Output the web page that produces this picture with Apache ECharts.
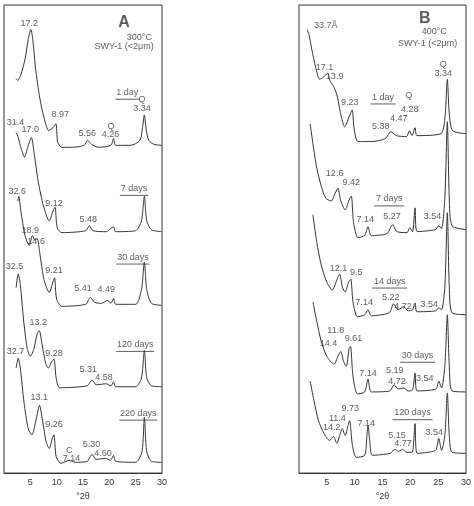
<!DOCTYPE html>
<html><head><meta charset="utf-8">
<script src="https://cdn.jsdelivr.net/npm/echarts@6/dist/echarts.min.js"></script>
<style>html,body{margin:0;padding:0;background:#fff}#c{width:474px;height:506px}</style>
</head><body><div id="c"></div>
<script>
// ---- Panel A (300°C) traces: [2θ, relative intensity] ; offsets = stacking baseline
const traceNamesA = ['1 day','7 days','30 days','120 days','220 days'];
const offsetsA = [332, 245, 170, 87, 10];
const a1 = [[2.3,70],[2.6,68],[3.2,74],[4.0,90],[4.6,110],[5.1,120],[5.5,108],[6.0,80],[6.8,50],[7.6,30],[8.5,17],[9.3,20],[9.85,24],[10.2,5],[11,0],[13,0],[15.2,2],[15.9,7],[16.6,3],[18,0],[20.3,2],[20.8,9],[21.2,2],[24,2],[25.8,7],[26.3,20],[26.65,33],[27,18],[27.5,7],[28.5,3],[30,2]];
const a2 = [[2.3,102],[2.7,97],[3.3,85],[3.9,77],[4.5,87],[5.2,97],[5.7,82],[6.5,52],[7.5,27],[8.6,12],[9.3,22],[9.7,26],[10.1,5],[11,0],[15.5,2],[16.2,7],[16.9,2],[19.5,1],[20,3],[20.8,6],[21.2,1],[25,2],[26.1,12],[26.65,37],[27.1,12],[28,3],[30,1]];
const a3 = [[2.6,107],[2.8,112],[3.2,97],[4.0,72],[4.8,62],[5.4,72],[5.9,67],[6.3,69],[6.8,54],[7.6,27],[8.6,14],[9.3,25],[9.6,29],[10.0,7],[11,0],[15.5,2],[16.4,9],[17.2,4],[18.5,3],[19.7,6],[20.3,3],[20.8,8],[21.2,2],[25,2],[26.1,17],[26.65,45],[27.1,17],[28,3],[30,1]];
const a4 = [[2.3,102],[2.7,116],[3.1,105],[3.7,70],[4.4,40],[5.0,32],[5.7,40],[6.3,55],[6.7,58],[7.2,45],[7.9,25],[8.4,20],[9.1,27],[9.5,29],[9.9,10],[10.6,0],[15.8,2],[16.7,8],[17.5,3],[19.4,4],[20.3,2],[20.8,6],[21.2,1],[25,1],[26.1,10],[26.65,38],[27.1,10],[28,2],[30,1]];
const a5 = [[2.3,97],[2.7,107],[3.1,97],[3.8,62],[4.6,35],[5.3,29],[6.0,42],[6.75,59],[7.3,44],[8.0,22],[8.6,15],[9.2,26],[9.5,29],[9.9,7],[10.8,0],[12.4,3],[13.5,1],[15.8,2],[16.7,9],[17.5,4],[19.3,5],[20.2,3],[20.8,8],[21.2,2],[25,1],[26.2,12],[26.65,47],[27.1,12],[28,2],[30,1]];
const tracesA = [a1,a2,a3,a4,a5];

// ---- Panel B (400°C)
const traceNamesB = ['1 day','7 days','14 days','30 days','120 days'];
const offsetsB = [335, 238, 158, 80, 16];
const b1 = [[1.5,113],[1.8,108],[2.3,93],[3.0,75],[3.7,63],[4.4,65],[5.1,69],[5.6,61],[6.3,55],[6.9,45],[7.6,25],[8.2,15],[9.0,25],[9.55,32],[9.9,13],[10.6,0],[13,0],[15.5,3],[16.5,10],[17.5,6],[19.3,5],[19.85,11],[20.3,6],[20.85,14],[21.2,6],[25.5,8],[26.2,23],[26.65,63],[27.0,28],[27.6,11],[30,8]];
const b2 = [[2.0,115],[2.5,95],[3.2,70],[4.0,52],[4.8,40],[5.8,37],[6.5,45],[7.0,50],[7.5,37],[8.3,28],[9.0,38],[9.4,42],[9.8,15],[10.6,0],[11.8,2],[12.4,11],[13.0,2],[15.8,4],[16.8,13],[17.6,6],[19.4,5],[19.9,10],[20.4,6],[20.85,30],[21.2,6],[24.5,8],[25.1,12],[25.6,9],[26.2,40],[26.65,117],[27.0,40],[27.5,12],[30,8]];
const b3 = [[2.5,103],[3.2,75],[4.0,52],[5.0,35],[6.0,27],[6.8,37],[7.3,43],[7.8,30],[8.3,25],[8.9,35],[9.3,38],[9.7,15],[10.5,0],[11.8,2],[12.4,7],[13.0,1],[16.2,4],[17.0,13],[17.8,7],[18.8,10],[19.6,6],[20.4,7],[20.85,14],[21.2,5],[24.6,6],[25.1,9],[25.6,7],[26.2,30],[26.65,105],[27.0,30],[27.5,4],[30,2]];
const b4 = [[2.5,93],[3.2,73],[4.0,53],[5.0,38],[6.3,30],[7.0,38],[7.5,43],[8.0,33],[8.5,28],[9.0,46],[9.25,48],[9.7,18],[10.5,0],[11.8,2],[12.4,15],[13.0,2],[16.3,3],[17.1,9],[17.8,5],[18.8,6],[19.6,3],[20.4,4],[20.85,21],[21.2,3],[24.6,5],[25.1,13],[25.6,6],[26.2,28],[26.65,80],[27.0,28],[27.5,3],[30,2]];
const b5 = [[2.0,77],[2.7,57],[3.5,37],[4.5,24],[5.5,17],[6.2,21],[6.8,14],[7.3,22],[7.75,29],[8.3,22],[8.8,32],[9.1,37],[9.6,12],[10.3,0],[11.8,2],[12.2,22],[12.4,32],[12.7,17],[13.2,2],[16.4,4],[17.2,8],[17.9,6],[18.6,8],[19.3,5],[20.3,5],[20.85,34],[21.2,4],[24.5,7],[25.1,19],[25.6,7],[26.2,22],[26.65,65],[27.0,22],[27.5,5],[30,4]];
const tracesB = [b1,b2,b3,b4,b5];

// ---- annotations: [text, 2θ, height]
const notesA = [['17.2',4.8,458],['300°C',25.7,444],['SWY-1 (<2μm)',22.8,435],['Q',26.2,381],['3.34',26.2,372],
['31.4',2.2,357],['17.0',5.0,350],['8.97',10.7,365],['5.56',15.8,346],['Q',20.3,353],['4.26',20.2,345],
['32.6',2.5,287],['9.12',9.5,275],['5.48',16,258],['18.9',5,247],['14.6',6.1,236],
['32.5',2.0,211],['9.21',9.5,206],['5.41',15,188],['4.49',19.4,187],
['13.2',6.5,153],['32.7',2.2,124],['9.28',9.5,122],['5.31',16,106],['4.58',19,97],
['13.1',6.7,77],['9.26',9.5,49],['C',12.4,23],['7.14',12.8,15],['5.30',16.6,29],['4.60',18.8,20]];
const dayLabelsA = [['1 day',23.4,388],['7 days',24.7,290],['30 days',24.5,220],['120 days',24.9,131],['220 days',25.5,61]];
const titleA = ['A',22.8,459];
const notesB = [['33.7Å',4.8,452],['400°C',24.3,446],['SWY-1 (<2μm)',23.1,434],
['17.1',4.6,410],['13.9',6.4,401],['Q',25.9,413],['3.34',25.9,404],['9.23',9.1,374],['Q',19.7,382],['4.28',19.9,367],['4.47',17.9,358],['5.38',14.7,350],
['12.6',6.4,303],['9.42',9.4,294],['7.14',11.9,256],['5.27',16.7,259],['3.54',24,259],
['12.1',7.1,207],['9.5',10.3,203],['7.14',11.7,172],['5.22',16.5,177],['4.72',18.7,168],['3.54',23.4,170],
['11.8',6.6,144],['14.4',5.3,131],['9.61',9.8,136],['7.14',12.4,101],['5.19',17.2,104],['4.72',17.6,93],['3.54',22.6,96],
['9.73',9.2,65],['11.4',6.9,55],['14.2',5.9,46],['7.14',12.1,50],['5.15',17.6,38],['4.77',18.7,30],['3.54',24.3,41]];
const dayLabelsB = [['1 day',15.1,380],['7 days',16.2,277],['14 days',16.3,194],['30 days',21.3,119],['120 days',20.4,61]];
const titleB = ['B',22.6,459];
const xTicks = [5,10,15,20,25,30];

const FONT = 'Liberation Sans, Arial, sans-serif';
const INK = '#333';
function lineSeries(traces, offsets, idx){
  return traces.map((t,i)=>({type:'line', xAxisIndex:idx, yAxisIndex:idx, symbol:'none', smooth:0.25,
    lineStyle:{color:INK,width:1}, silent:true, clip:true,
    data:t.map(p=>[p[0], p[1]+offsets[i]])}));
}
function noteSeries(notes, days, title, idx){
  const data = notes.map(n=>({value:[n[1],n[2]], name:n[0]}))
    .concat(days.map(n=>({value:[n[1],n[2]], name:n[0]})))
    .concat([{value:[title[1],title[2]], name:title[0], label:{fontSize:16, fontWeight:'bold'}}]);
  return {type:'scatter', xAxisIndex:idx, yAxisIndex:idx, symbolSize:1, silent:true,
    itemStyle:{color:'rgba(0,0,0,0)'}, data,
    label:{show:true, position:'inside', formatter:p=>p.name, color:INK, fontSize:9, fontFamily:FONT}};
}
function underlineSeries(days, idx){
  return days.map(d=>{
    const half = d[0].length*0.45;
    return {type:'line', xAxisIndex:idx, yAxisIndex:idx, symbol:'none', silent:true,
      lineStyle:{color:INK,width:0.8}, data:[[d[1]-half, d[2]-7],[d[1]+half, d[2]-7]]};
  });
}
const xAxisBase = {type:'value', min:0, max:30, interval:5, axisLine:{lineStyle:{color:INK}},
  axisTick:{show:false}, splitLine:{show:false},
  axisLabel:{color:INK, fontSize:9, fontFamily:FONT, margin:5, formatter:v=>xTicks.includes(v)?String(v):''},
  name:'°2θ', nameLocation:'middle', nameGap:15, nameTextStyle:{color:INK,fontSize:9,fontFamily:FONT}};
const chart = echarts.init(document.getElementById('c'));
chart.setOption({
  backgroundColor:'#fff', animation:false,
  grid:[{left:4, width:158, top:5, bottom:24, show:true, borderColor:INK, borderWidth:1},
        {left:299, right:5, top:5, bottom:28, show:true, borderColor:INK, borderWidth:1}],
  xAxis:[Object.assign({gridIndex:0}, xAxisBase, {nameGap:16}),
         Object.assign({gridIndex:1}, xAxisBase)],
  yAxis:[{gridIndex:0,type:'value',min:0,max:477,show:false},{gridIndex:1,type:'value',min:0,max:473,show:false}],
  series:[].concat(lineSeries(tracesA,offsetsA,0), lineSeries(tracesB,offsetsB,1),
    [noteSeries(notesA,dayLabelsA,titleA,0), noteSeries(notesB,dayLabelsB,titleB,1)],
    underlineSeries(dayLabelsA,0), underlineSeries(dayLabelsB,1))
});
</script></body></html>
